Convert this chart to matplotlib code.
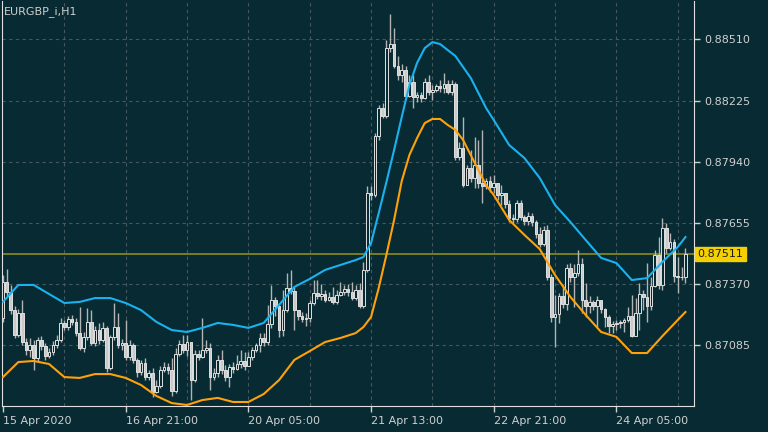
import matplotlib
matplotlib.use('Agg')
import matplotlib.pyplot as plt
import numpy as np

# EURGBP_i H1 Kerzen (Preise in 1e-5)
open0 = 87212
closes = [87380, 87333, 87249, 87133, 87235, 87100, 87063, 87086, 87026, 87110,
          87082, 87035, 87054, 87086, 87110, 87189, 87170, 87207, 87193, 87142,
          87072, 87124, 87193, 87096, 87156, 87110, 87165, 86979, 87124, 87170,
          87086, 87096, 87030, 87086, 87016, 86961, 87002, 86937, 86956, 86867,
          86895, 86970, 86984, 86970, 86872, 87044, 87091, 87063, 87100, 86923,
          87044, 87030, 87063, 87072, 86937, 86956, 87016, 86970, 86937, 86984,
          86975, 86998, 87012, 86989, 87030, 87063, 87086, 87119, 87100, 87184,
          87296, 87268, 87156, 87249, 87352, 87338, 87249, 87221, 87207, 87212,
          87282, 87328, 87314, 87324, 87296, 87310, 87287, 87319, 87333, 87347,
          87333, 87305, 87342, 87268, 87436, 87794, 87785, 88060, 88190, 88153,
          88469, 88488, 88386, 88344, 88367, 88246, 88311, 88241, 88251, 88237,
          88311, 88265, 88274, 88293, 88283, 88302, 88265, 88302, 87962, 88004,
          87831, 87911, 87864, 87925, 87841, 87827, 87850, 87822, 87841, 87785,
          87794, 87743, 87678, 87673, 87748, 87682, 87664, 87687, 87659, 87603,
          87557, 87622, 87403, 87217, 87231, 87314, 87277, 87445, 87403, 87422,
          87464, 87296, 87268, 87287, 87268, 87296, 87254, 87217, 87175, 87184,
          87189, 87193, 87203, 87221, 87128, 87235, 87324, 87310, 87268, 87361,
          87506, 87366, 87631, 87538, 87566, 87408, 87403, 87403, 87511]
highs = [87412, 87440, 87366, 87268, 87254, 87296, 87119, 87119, 87110, 87124,
         87128, 87096, 87072, 87105, 87133, 87212, 87203, 87221, 87226, 87212,
         87263, 87147, 87259, 87249, 87175, 87189, 87193, 87175, 87133, 87282,
         87235, 87114, 87203, 87110, 87096, 87026, 87016, 87026, 86970, 86979,
         86923, 86989, 87007, 87002, 87026, 87072, 87110, 87133, 87133, 87072,
         87063, 87063, 87212, 87110, 87096, 86979, 87040, 87063, 86993, 86998,
         87007, 87040, 87063, 87054, 87054, 87077, 87096, 87142, 87142, 87273,
         87366, 87310, 87273, 87342, 87422, 87436, 87361, 87249, 87240, 87235,
         87296, 87389, 87389, 87370, 87342, 87333, 87356, 87342, 87380, 87366,
         87370, 87380, 87366, 87375, 87473, 87827, 87827, 88074, 88204, 88213,
         88507, 88628, 88563, 88432, 88395, 88386, 88344, 88344, 88265, 88265,
         88330, 88344, 88297, 88302, 88320, 88353, 88320, 88320, 88311, 88032,
         88148, 87925, 87994, 88055, 88041, 88088, 87864, 87873, 87878, 87827,
         87831, 87762, 87762, 87696, 87762, 87762, 87692, 87706, 87701, 87668,
         87636, 87640, 87645, 87417, 87319, 87328, 87366, 87464, 87468, 87464,
         87529, 87492, 87375, 87314, 87296, 87314, 87282, 87259, 87226, 87198,
         87203, 87203, 87212, 87263, 87319, 87305, 87375, 87342, 87468, 87403,
         87529, 87589, 87678, 87654, 87608, 87580, 87496, 87450, 87538]
lows = [87193, 87314, 87231, 87119, 87124, 87086, 87040, 87030, 86970, 87007,
        87063, 87016, 87026, 87040, 87072, 87100, 87156, 87156, 87179, 87128,
        87063, 87054, 87110, 87086, 87082, 87091, 87100, 86961, 86970, 87110,
        87072, 87063, 87016, 87016, 87002, 86937, 86947, 86923, 86923, 86844,
        86863, 86886, 86961, 86951, 86849, 86863, 87035, 87049, 87035, 86830,
        86914, 87016, 87026, 87049, 86877, 86923, 86937, 86951, 86919, 86891,
        86956, 86970, 86979, 86970, 86989, 87016, 87054, 87054, 87082, 87086,
        87165, 87221, 87124, 87128, 87240, 87324, 87156, 87203, 87193, 87175,
        87193, 87273, 87301, 87296, 87287, 87291, 87277, 87277, 87314, 87319,
        87314, 87296, 87296, 87259, 87259, 87426, 87762, 87776, 88041, 88143,
        88143, 88451, 88376, 88320, 88311, 88237, 88241, 88190, 88218, 88218,
        88232, 88251, 88227, 88265, 88265, 88260, 88255, 88251, 87948, 87948,
        87822, 87855, 87845, 87817, 87817, 87748, 87813, 87799, 87794, 87762,
        87738, 87724, 87659, 87654, 87659, 87668, 87645, 87645, 87640, 87585,
        87543, 87547, 87389, 87193, 87077, 87189, 87259, 87249, 87380, 87263,
        87408, 87235, 87217, 87235, 87249, 87170, 87235, 87170, 87142, 87142,
        87156, 87165, 87147, 87193, 87124, 87165, 87156, 87249, 87193, 87249,
        87356, 87347, 87342, 87515, 87529, 87380, 87328, 87389, 87375]

band_idx = (list(range(0, 93, 4)) + list(range(94, 129, 2))
            + list(range(132, 177, 4)) + [178])
upper = [87287, 87366, 87366, 87324, 87282, 87287, 87305, 87305, 87282, 87249,
         87194, 87156, 87147, 87166, 87189, 87180, 87166, 87189, 87273, 87357,
         87394, 87436, 87459, 87482,
         87496, 87561, 87701, 87845, 87994, 88148, 88297, 88400, 88469, 88497,
         88488, 88460, 88432, 88381, 88330, 88260, 88190, 88134,
         88018, 87957, 87864, 87738, 87659, 87575, 87492,
         87468, 87389, 87398, 87473, 87543, 87589]
lower = [86937, 87007, 87012, 86998, 86937, 86933, 86951, 86951, 86933, 86900,
         86849, 86816, 86807, 86830, 86840, 86821, 86821, 86858, 86923, 87017,
         87058, 87100, 87119, 87142,
         87170, 87217, 87352, 87506, 87668, 87850, 87971, 88050, 88120, 88139,
         88139, 88111, 88088, 88041, 87971, 87901, 87831, 87785,
         87669, 87599, 87533, 87412, 87310, 87226, 87147,
         87124, 87049, 87049, 87128, 87203, 87240]

price_ticks = [0.87085, 0.87370, 0.87655, 0.87940, 0.88225, 0.88510]
time_pos = [0, 32, 64, 96, 128, 160]
time_labels = ['15 Apr 2020', '16 Apr 21:00', '20 Apr 05:00', '21 Apr 13:00',
               '22 Apr 21:00', '24 Apr 05:00']
last_price = 0.87511

bg = '#072a33'
fg = '#d0d0d0'

c = np.array(closes) / 1e5
o = np.concatenate([[open0 / 1e5], c[:-1]])
h = np.maximum(np.array(highs) / 1e5, np.maximum(o, c))
l = np.minimum(np.array(lows) / 1e5, np.minimum(o, c))
x = np.arange(len(c))

fig = plt.figure(figsize=(7.68, 4.32), dpi=100, facecolor=bg)
ax = fig.add_axes([2 / 768, 26 / 432, 692 / 768, 405 / 432], facecolor=bg)

# Gitter
for gx in range(16, 179, 16):
    ax.axvline(gx, color='#46585e', lw=0.8, ls=(0, (3, 3)), zorder=0)
for gy in price_ticks:
    ax.axhline(gy, color='#46585e', lw=0.8, ls=(0, (3, 3)), zorder=0)

# Kerzen
ax.vlines(x, l, h, color='#b4b4b4', lw=1, zorder=2)
bull = c >= o
body_b = np.minimum(o, c)
body_h = np.maximum(np.abs(c - o), 0.000012)
ax.bar(x[bull], body_h[bull], bottom=body_b[bull], width=0.7,
       color=bg, edgecolor='#e0e0e0', lw=0.7, zorder=3)
ax.bar(x[~bull], body_h[~bull], bottom=body_b[~bull], width=0.7,
       color='#cacaca', edgecolor='#e0e0e0', lw=0.7, zorder=3)

# Envelopes
ax.plot(band_idx, np.array(upper) / 1e5, color='#1ab2ee', lw=1.5, zorder=4)
ax.plot(band_idx, np.array(lower) / 1e5, color='#ffa10a', lw=1.5, zorder=4)

# aktueller Kurs
ax.axhline(last_price, color='#8c8c1e', lw=1.2, zorder=1)
ax.text(1.005, last_price, '%.5f' % last_price, transform=ax.get_yaxis_transform(),
        va='center', ha='left', fontsize=8, color='#1a1a1a',
        bbox=dict(boxstyle='square,pad=0.2', fc='#f5d000', ec='#f5d000'))

ax.set_xlim((2 - 3) / 3.834, (694 - 3) / 3.834)
ax.set_ylim(0.868023, 0.886884)

ax.yaxis.tick_right()
ax.set_yticks(price_ticks)
ax.set_yticklabels(['%.5f' % p for p in price_ticks])
ax.set_xticks(time_pos)
ax.set_xticklabels(time_labels, ha='left')
ax.tick_params(colors=fg, labelsize=8, length=4, direction='out', width=1)
for lab in ax.get_xticklabels():
    lab.set_color(fg)
for lab in ax.get_yticklabels():
    lab.set_color(fg)

for s in ['left', 'bottom', 'right']:
    ax.spines[s].set_color('#e0e0e0')
ax.spines['top'].set_visible(False)

fig.text(4 / 768, 1 - 12 / 432, 'EURGBP_i,H1', color=fg, fontsize=8, va='center')

plt.savefig('out.png', dpi=100, facecolor=bg)
